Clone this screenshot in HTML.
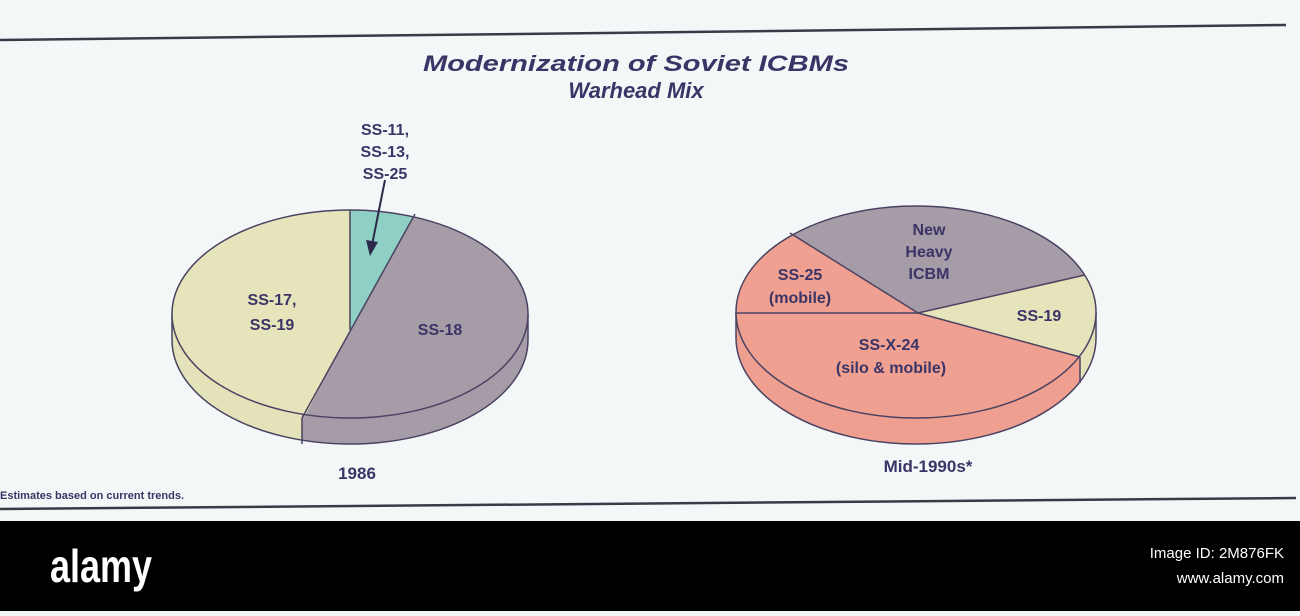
<!DOCTYPE html>
<html><head><style>
body{margin:0;width:1300px;height:611px;overflow:hidden;background:#f3f6f6;font-family:"Liberation Sans",sans-serif}
</style></head><body>
<svg width="1300" height="611" viewBox="0 0 1300 611" xmlns="http://www.w3.org/2000/svg">
<rect width="1300" height="521" fill="#f4f7f7"/>
<line x1="0" y1="40" x2="1286" y2="25" stroke="#3a3a48" stroke-width="2.5"/>
<line x1="0" y1="509" x2="1296" y2="498" stroke="#3a3a48" stroke-width="2.5"/>
<g font-family="Liberation Sans" font-weight="bold" font-style="italic" fill="#3b3466" font-size="22" text-anchor="middle">
<text x="636" y="71" textLength="426" lengthAdjust="spacingAndGlyphs">Modernization of Soviet ICBMs</text>
<text x="636" y="98">Warhead Mix</text>
</g>
<defs>
<clipPath id="lt"><ellipse cx="350" cy="314" rx="178" ry="104"/></clipPath>
<clipPath id="rt"><ellipse cx="916" cy="312" rx="180" ry="106"/></clipPath>
<clipPath id="ls"><path d="M172,314 L172,340 A178,104 0 0 0 528,340 L528,314 Z"/></clipPath>
<clipPath id="rs"><path d="M736,312 L736,338 A180,106 0 0 0 1096,338 L1096,312 Z"/></clipPath>
</defs>
<g clip-path="url(#ls)">
<rect x="170" y="300" width="135" height="160" fill="#e4e2b8"/>
<rect x="302" y="300" width="230" height="160" fill="#a69ca8"/>
</g>
<path d="M172,314 L172,340 A178,104 0 0 0 528,340 L528,314" fill="none" stroke="#4a4262" stroke-width="1.5"/>
<line x1="302" y1="418" x2="302" y2="444" stroke="#4a4262" stroke-width="1.5"/>
<g clip-path="url(#lt)">
<rect x="160" y="200" width="380" height="230" fill="#e6e4bb"/>
<polygon points="350,330 423,200 545,200 545,435 295,435" fill="#a69ca8"/>
<polygon points="350,330 350,200 423,200" fill="#8fd0c4"/>
</g>
<ellipse cx="350" cy="314" rx="178" ry="104" fill="none" stroke="#4a4262" stroke-width="1.5"/>
<line x1="350" y1="210" x2="350" y2="330" stroke="#4a4262" stroke-width="1.5"/>
<line x1="415" y1="214" x2="302" y2="418" stroke="#4a4262" stroke-width="1.5"/>
<line x1="385" y1="180" x2="372" y2="245" stroke="#2c2a4a" stroke-width="2"/>
<polygon points="366,240 378,242 370,256" fill="#2c2a4a"/>
<g clip-path="url(#rs)">
<rect x="730" y="300" width="350" height="160" fill="#ef9f8f"/>
<rect x="1080" y="300" width="30" height="160" fill="#e4e2b8"/>
</g>
<path d="M736,312 L736,338 A180,106 0 0 0 1096,338 L1096,312" fill="none" stroke="#4a4262" stroke-width="1.5"/>
<line x1="1080" y1="357" x2="1080" y2="383" stroke="#4a4262" stroke-width="1.5"/>
<g clip-path="url(#rt)">
<rect x="730" y="195" width="380" height="240" fill="#f0a090"/>
<polygon points="918,313 729,195 1140,195 1140,263" fill="#a69ca8"/>
<polygon points="918,313 1140,263 1140,373" fill="#e6e4bb"/>
</g>
<ellipse cx="916" cy="312" rx="180" ry="106" fill="none" stroke="#4a4262" stroke-width="1.5"/>
<line x1="736" y1="313" x2="918" y2="313" stroke="#4a4262" stroke-width="1.5"/>
<line x1="790" y1="233" x2="918" y2="313" stroke="#4a4262" stroke-width="1.5"/>
<line x1="1085" y1="275" x2="918" y2="313" stroke="#4a4262" stroke-width="1.5"/>
<line x1="1080" y1="357" x2="918" y2="313" stroke="#4a4262" stroke-width="1.5"/>
<g font-family="Liberation Sans" font-weight="bold" fill="#3b3466" font-size="16" text-anchor="middle">
<text x="385" y="135">SS-11,</text>
<text x="385" y="157">SS-13,</text>
<text x="385" y="179">SS-25</text>
<text x="272" y="305">SS-17,</text>
<text x="272" y="330">SS-19</text>
<text x="440" y="335">SS-18</text>
<text x="929" y="235">New</text>
<text x="929" y="257">Heavy</text>
<text x="929" y="279">ICBM</text>
<text x="800" y="280">SS-25</text>
<text x="800" y="303">(mobile)</text>
<text x="1039" y="321">SS-19</text>
<text x="889" y="350">SS-X-24</text>
<text x="891" y="373">(silo &amp; mobile)</text>
<text x="357" y="479" font-size="17">1986</text>
<text x="928" y="472" font-size="17">Mid-1990s*</text>
</g>
<text x="0" y="499" font-family="Liberation Sans" font-weight="bold" font-size="11" fill="#3b3466">Estimates based on current trends.</text>
<rect y="521" width="1300" height="90" fill="#000"/>
<text x="50" y="582" font-family="Liberation Sans" font-weight="bold" font-size="46" fill="#fff" textLength="102" lengthAdjust="spacingAndGlyphs">alamy</text>
<text x="1284" y="558" text-anchor="end" font-family="Liberation Sans" font-size="15" fill="#fff">Image ID: 2M876FK</text>
<text x="1284" y="583" text-anchor="end" font-family="Liberation Sans" font-size="15" fill="#fff">www.alamy.com</text>
</svg>
</body></html>
